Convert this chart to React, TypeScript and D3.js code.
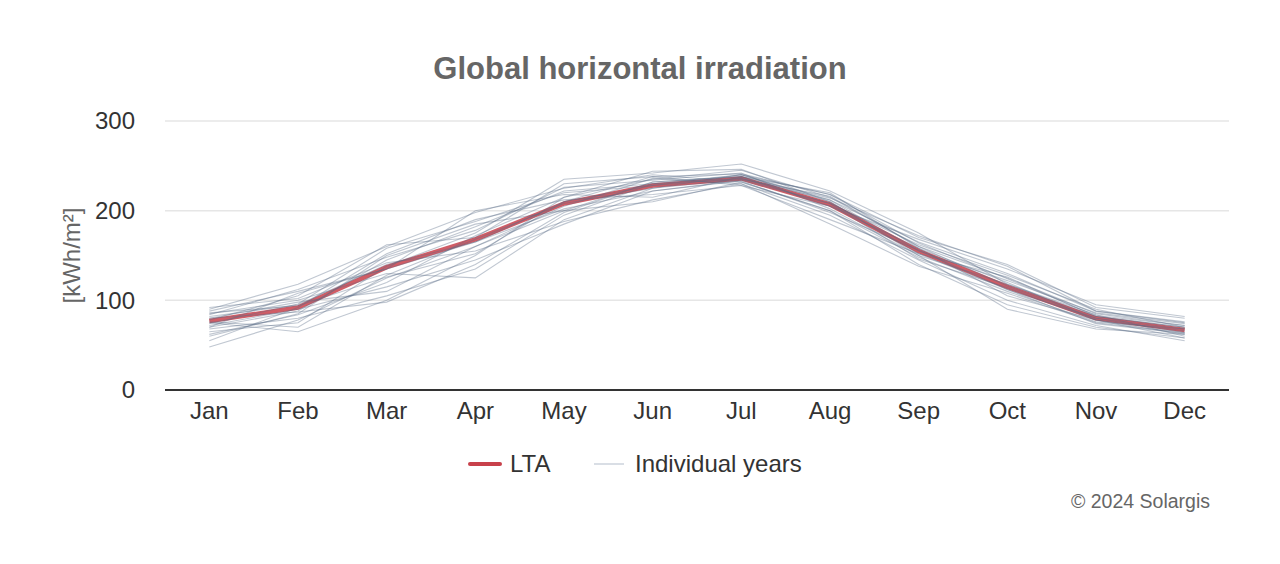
import React from "react";
import * as d3 from "d3";

const months = ["Jan", "Feb", "Mar", "Apr", "May", "Jun", "Jul", "Aug", "Sep", "Oct", "Nov", "Dec"];

// long-term average, kWh/m2 per month
const lta = [77, 92, 137, 168, 208, 228, 236, 207, 155, 115, 80, 67];

// individual years, kWh/m2 per month
const yearValues = [
	[82, 95, 140, 165, 210, 228, 240, 210, 150, 118, 82, 70],
	[48, 78, 125, 160, 200, 232, 238, 205, 158, 120, 78, 62],
	[90, 118, 160, 198, 225, 240, 232, 200, 148, 110, 76, 68],
	[75, 65, 100, 150, 215, 235, 245, 215, 160, 125, 85, 72],
	[70, 88, 145, 182, 222, 230, 236, 212, 165, 130, 88, 75],
	[85, 100, 130, 125, 190, 225, 240, 218, 170, 140, 92, 80],
	[60, 85, 150, 185, 200, 210, 232, 200, 140, 95, 70, 58],
	[78, 105, 162, 170, 230, 238, 228, 190, 152, 112, 80, 64],
	[72, 90, 115, 145, 185, 222, 234, 208, 162, 128, 90, 70],
	[88, 110, 135, 200, 218, 215, 238, 220, 158, 105, 78, 66],
	[65, 75, 138, 175, 235, 242, 252, 222, 175, 118, 84, 60],
	[80, 98, 110, 160, 205, 236, 230, 195, 145, 100, 72, 55],
	[68, 80, 105, 135, 195, 230, 240, 212, 155, 122, 86, 74],
	[55, 92, 152, 190, 212, 218, 228, 205, 168, 135, 95, 82],
	[84, 112, 148, 178, 226, 234, 242, 202, 150, 90, 68, 62],
	[76, 70, 128, 168, 208, 225, 235, 216, 160, 116, 80, 68],
	[92, 102, 142, 155, 188, 212, 230, 185, 138, 108, 75, 64],
	[62, 84, 120, 172, 215, 244, 246, 210, 152, 126, 82, 70],
	[74, 96, 158, 188, 220, 228, 236, 208, 146, 114, 78, 58],
	[80, 87, 98, 140, 198, 232, 238, 214, 172, 138, 88, 76],
	[70, 108, 135, 165, 202, 222, 233, 198, 156, 112, 74, 63],
	[86, 94, 126, 152, 210, 238, 241, 218, 164, 124, 83, 72],
];

const yTicks = [0, 100, 200, 300];

export default function App() {
	const width = 1280;
	const height = 564;
	const margin = { top: 121, right: 51, bottom: 174, left: 165 };
	const plotW = width - margin.left - margin.right;
	const plotH = height - margin.top - margin.bottom;

	const x = d3.scaleBand().domain(months).range([0, plotW]);
	const y = d3.scaleLinear().domain([0, 300]).range([plotH, 0]);
	const cx = (i: number) => (x(months[i]) ?? 0) + x.bandwidth() / 2;

	const line = d3
		.line<number>()
		.x((_, i) => cx(i))
		.y((d) => y(d));

	const font = "'Liberation Sans', Arial, sans-serif";

	return (
		<svg
			width={width}
			height={height}
			style={{ position: "absolute", left: 0, top: 0, background: "#fff" }}
			fontFamily={font}
		>
			<text x={640} y={79} textAnchor="middle" fontSize={31} fontWeight="bold" fill="#666">
				Global horizontal irradiation
			</text>

			<g transform={`translate(${margin.left},${margin.top})`}>
				{yTicks.slice(1).map((t) => (
					<line key={t} x1={0} x2={plotW} y1={y(t)} y2={y(t)} stroke="#e6e6e6" strokeWidth={1.5} />
				))}
				{yTicks.map((t) => (
					<text key={t} x={-30} y={y(t)} dy="0.35em" textAnchor="end" fontSize={24} fill="#333">
						{t}
					</text>
				))}

				<path d={line(lta) ?? ""} fill="none" stroke="#c8414b" strokeWidth={4.5} strokeOpacity={0.85} strokeLinejoin="round" />

				{yearValues.map((v, k) => (
					<path key={k} d={line(v) ?? ""} fill="none" stroke="#5a6d86" strokeWidth={1.1} strokeOpacity={0.38} />
				))}

				<line x1={0} x2={plotW} y1={plotH} y2={plotH} stroke="#333" strokeWidth={2} />
				{months.map((m, i) => (
					<text key={m} x={cx(i)} y={plotH + 21} dy="0.35em" textAnchor="middle" fontSize={24} fill="#333">
						{m}
					</text>
				))}
			</g>

			<text
				transform={`translate(72,${margin.top + plotH / 2}) rotate(-90)`}
				dy="0.35em"
				textAnchor="middle"
				fontSize={24}
				fill="#666"
			>
				[kWh/m²]
			</text>

			<g transform="translate(0,464)">
				<line x1={470} x2={500} y1={0} y2={0} stroke="#c8414b" strokeWidth={4} strokeLinecap="round" />
				<text x={510} y={0} dy="0.35em" fontSize={24} fill="#333">
					LTA
				</text>
				<line x1={594} x2={624} y1={0} y2={0} stroke="#cdd3dc" strokeWidth={1.5} />
				<text x={635} y={0} dy="0.35em" fontSize={24} fill="#333">
					Individual years
				</text>
			</g>

			<text x={1210} y={508} textAnchor="end" fontSize={19.5} fill="#666">
				© 2024 Solargis
			</text>
		</svg>
	);
}
